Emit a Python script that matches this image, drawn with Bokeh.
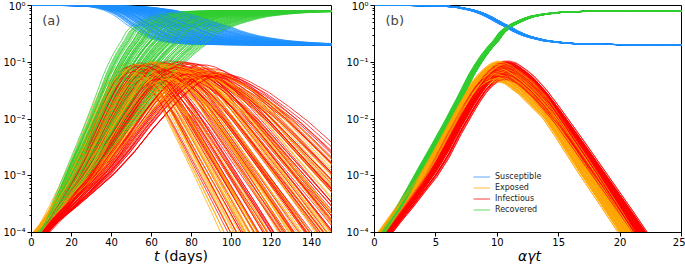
import numpy as np
from bokeh.plotting import figure
from bokeh.layouts import row, column
from bokeh.models import (FixedTicker, CustomJSTickFormatter, Label, Legend,
                          LegendItem, ColumnDataSource, Range1d, Div)
from bokeh.embed import file_html
from bokeh.resources import INLINE

# ---- template curves (x = alpha*gamma*t) ----
X_T = [0.0, 0.5, 1.0, 2.0, 3.0, 4.0, 5.0, 6.0, 7.0, 8.0, 8.5, 9.0, 9.5, 10.0,
       10.5, 11.0, 11.5, 12.0, 12.5, 13.0, 14.0, 15.0, 16.0, 17.0, 18.0, 19.0,
       20.0, 21.0, 22.0, 23.0, 25.0, 30.0, 40.0]
S_T = [1.0, 1.0, 1.0, 0.9999, 0.9995, 0.998, 0.99, 0.97, 0.92, 0.83, 0.77,
       0.70, 0.62, 0.54, 0.47, 0.42, 0.36, 0.32, 0.29, 0.27, 0.24, 0.225,
       0.215, 0.21, 0.207, 0.206, 0.205, 0.204, 0.204, 0.204, 0.204, 0.204, 0.204]
R_LOG = [-4.4, -4.15, -3.95, -3.6, -3.22, -2.83, -2.45, -2.06, -1.65, -1.22,
         -1.04, -0.88, -0.74, -0.62, -0.47, -0.38, -0.32, -0.27, -0.225, -0.19,
         -0.15, -0.125, -0.112, -0.105, -0.1, -0.098, -0.097, -0.0965, -0.0962,
         -0.096, -0.096, -0.096, -0.096]
I_HI_LOG = [-4.3, -4.12, -3.97, -3.65, -3.35, -3.05, -2.67, -2.25, -1.86, -1.5,
            -1.35, -1.21, -1.1, -1.02, -0.98, -0.98, -1.01, -1.08, -1.16,
            -1.25, -1.49, -1.78, -2.08, -2.38, -2.69, -3.0, -3.31, -3.62, -3.94,
            -4.25, -4.87, -6.4, -9.5]
I_LO_LOG = [-4.5, -4.3, -4.12, -3.84, -3.58, -3.3, -3.03, -2.69, -2.27, -1.89,
            -1.71, -1.55, -1.43, -1.34, -1.31, -1.33, -1.38, -1.46, -1.56, -1.66,
            -1.9, -2.15, -2.45, -2.76, -3.06, -3.36, -3.66, -3.97, -4.27, -4.57,
            -5.17, -6.7, -9.8]
E_HI_LOG = [-4.12, -3.95, -3.8, -3.5, -3.17, -2.83, -2.45, -2.04, -1.66, -1.34,
            -1.21, -1.1, -1.02, -0.98, -0.99, -1.03, -1.1, -1.17, -1.26, -1.35,
            -1.6, -1.93, -2.25, -2.57, -2.9, -3.24, -3.58, -3.93, -4.27, -4.6,
            -5.3, -7.0, -10.4]
E_LO_LOG = [-4.3, -4.15, -4.0, -3.7, -3.41, -3.12, -2.78, -2.37, -1.96, -1.63,
            -1.51, -1.42, -1.37, -1.35, -1.37, -1.43, -1.52, -1.6, -1.71, -1.82,
            -2.03, -2.35, -2.69, -3.03, -3.35, -3.67, -4.0, -4.33, -4.66, -5.0,
            -5.66, -7.3, -10.6]

# ---- per-run values: days per unit of alpha*gamma*t, offset (alpha*gamma*t),
#      extra offset in days (panel a), peak weights for I and E ----
K_DAYS = [6.3, 8.4, 5.1, 7.35, 4.7, 9.0, 6.75, 5.55, 8.1, 7.05,
          4.9, 6.0, 9.45, 5.8, 7.6, 6.5, 8.75, 5.3, 7.2, 4.5,
          6.15, 8.2, 5.95, 9.3, 7.0, 5.4, 6.6, 8.5, 4.8, 7.4,
          6.35, 9.15, 5.7, 7.8, 6.1, 8.0, 5.15, 6.9, 9.6, 5.5,
          7.3, 4.6, 6.4, 8.6, 5.9, 7.1, 6.2, 8.9, 5.0, 7.7,
          6.8, 8.3, 5.35, 7.5, 5.75, 6.55, 7.9, 5.2, 6.7, 5.6,
          5.25, 7.25, 6.45, 8.05, 4.65, 6.95, 5.65, 8.55, 6.25, 7.55,
          4.85, 7.95, 6.05, 5.45, 9.05, 6.65, 7.15, 5.85, 8.35, 6.85,
          5.05, 7.65, 6.35, 8.8, 5.6, 7.45, 6.0, 9.35, 5.3, 7.0]
U_OFF = [-0.05, -0.15, 0.08, -0.02, 0.12, -0.3, 0.0, -0.06, -0.1, -0.12,
         0.02, 0.06, -0.3, -0.03, -0.14, 0.03, -0.26, 0.1, -0.08, 0.0,
         -0.1, -0.05, 0.09, -0.32, 0.02, -0.02, -0.08, -0.12, 0.07, -0.04,
         0.05, -0.27, 0.04, -0.18, -0.01, -0.08, -0.04, -0.06, -0.35, 0.12,
         -0.1, 0.09, -0.12, -0.06, 0.0, 0.04, 0.02, -0.25, -0.03, -0.07,
         -0.11, -0.19, 0.05, 0.0, -0.08, 0.07, -0.12, 0.01, -0.04, 0.06,
         0.03, -0.09, 0.06, -0.13, 0.1, -0.02, -0.05, -0.17, 0.0, -0.11,
         0.05, -0.14, -0.06, 0.08, -0.24, 0.01, -0.07, 0.03, -0.16, -0.03,
         0.11, -0.1, 0.02, -0.21, -0.01, -0.06, 0.08, -0.3, 0.0, -0.09]
D_DAYS = [-0.9, -2.0, -0.3, -1.4, 0.0, -2.2, -1.1, -0.5, -1.8, -1.3,
          -0.2, -0.7, -2.4, -0.6, -1.5, -1.0, -2.1, -0.4, -1.3, 0.0,
          -0.8, -2.0, -0.7, -2.3, -1.2, -0.4, -1.0, -2.0, -0.1, -1.3,
          -0.9, -2.3, -0.6, -1.6, -0.8, -1.8, -0.3, -1.2, -2.5, -0.5,
          -1.4, 0.0, -0.9, -2.1, -0.7, -1.3, -0.8, -2.2, -0.2, -1.6,
          -1.1, -1.9, -0.4, -1.5, -0.6, -1.0, -1.7, -0.3, -1.1, -0.5,
          -0.4, -1.4, -1.0, -1.8, 0.0, -1.2, -0.6, -2.0, -0.9, -1.5,
          -0.2, -1.7, -0.8, -0.5, -2.3, -1.1, -1.3, -0.7, -1.9, -1.2,
          -0.3, -1.6, -0.9, -2.1, -0.5, -1.4, -0.7, -2.4, -0.4, -1.2]
W_I = [0.9, 0.5, 0.6, 0.7, 0.55, 0.35, 0.4, 0.8, 0.2, 0.95,
       0.3, 0.75, 0.25, 0.5, 0.6, 1.0, 0.45, 0.2, 0.35, 0.65,
       0.3, 0.8, 0.95, 0.15, 0.55, 0.4, 0.7, 0.3, 0.8, 0.1,
       0.6, 0.4, 0.15, 0.85, 0.45, 0.65, 0.9, 0.25, 0.3, 0.55,
       0.45, 0.4, 0.85, 0.6, 0.1, 0.75, 0.5, 0.2, 0.7, 0.35,
       0.8, 0.35, 0.65, 0.05, 0.9, 0.2, 0.5, 0.35, 0.6, 0.0,
       0.55, 0.85, 0.3, 0.4, 0.75, 0.65, 0.25, 0.2, 0.9, 0.5,
       0.45, 0.55, 0.6, 0.85, 0.3, 0.15, 0.95, 0.7, 0.25, 0.4,
       0.8, 0.3, 0.5, 0.35, 0.6, 0.9, 0.05, 0.2, 0.75, 0.65]
W_E = [0.7, 0.3, 0.85, 0.5, 0.9, 0.2, 0.6, 0.4, 0.55, 0.8,
       0.6, 0.95, 0.1, 0.35, 0.45, 0.75, 0.3, 0.5, 0.65, 0.85,
       0.5, 0.6, 0.7, 0.25, 0.9, 0.15, 0.45, 0.4, 0.55, 0.3,
       0.8, 0.2, 0.65, 0.5, 1.0, 0.35, 0.6, 0.75, 0.15, 0.4,
       0.25, 0.7, 0.55, 0.45, 0.85, 0.3, 0.95, 0.35, 0.5, 0.6,
       0.4, 0.5, 0.0, 0.7, 0.65, 0.9, 0.25, 0.8, 0.45, 0.55,
       0.35, 0.75, 0.2, 0.6, 0.5, 0.85, 0.1, 0.45, 0.7, 0.95,
       0.65, 0.25, 0.9, 0.4, 0.55, 0.3, 0.8, 0.05, 0.6, 0.75,
       0.45, 0.5, 0.35, 0.7, 0.2, 0.65, 0.95, 0.4, 0.85, 0.15]

NAMES = ["Susceptible", "Exposed", "Infectious", "Recovered"]
COLORS = ["#1e90ff", "#ffa500", "#ff0000", "#32cd32"]
Y_TICKS = [1e-4, 1e-3, 1e-2, 1e-1, 1.0]
X_TICKS_A = [0, 20, 40, 60, 80, 100, 120, 140]
X_TICKS_B = [0, 5, 10, 15, 20, 25]

FONT = "DejaVu Sans"

xt = np.array(X_T)
s_t = np.array(S_T)
r_t = 10 ** np.array(R_LOG)
ih, il = np.array(I_HI_LOG), np.array(I_LO_LOG)
eh, el = np.array(E_HI_LOG), np.array(E_LO_LOG)

xa, xb, ys, cols = [], [], [], []
for k, u, d, we, wi in zip(K_DAYS, U_OFF, D_DAYS, W_E, W_I):
    e = 10 ** (we * eh + (1 - we) * el)
    i = 10 ** (wi * ih + (1 - wi) * il)
    xr = xt + u
    for y, c in zip([s_t, e, i, r_t], COLORS):
        xb.append(list(xr))
        xa.append(list(k * xr + d))
        ys.append(list(y))
        cols.append(c)

src_a = ColumnDataSource(dict(xs=xa, ys=ys, c=cols))
src_b = ColumnDataSource(dict(xs=xb, ys=ys, c=cols))

sup_code = """
const e = Math.round(Math.log10(tick));
const m = {'0':'\\u2070','1':'\\u00b9','2':'\\u00b2','3':'\\u00b3','4':'\\u2074',
           '5':'\\u2075','6':'\\u2076','7':'\\u2077','8':'\\u2078','9':'\\u2079','-':'\\u207b'};
return '10' + String(e).split('').map(c => m[c]).join('');
"""
minor = [m * 10.0 ** ex for ex in range(-4, 0) for m in range(2, 10)]


def make_fig(width, xr, xticks, src, left, right):
    p = figure(width=width, height=248, x_range=Range1d(*xr),
               y_range=Range1d(1e-4, 1.0), y_axis_type="log",
               output_backend="svg", toolbar_location=None,
               min_border_left=left, min_border_right=right,
               min_border_top=5, min_border_bottom=16)
    p.multi_line(xs="xs", ys="ys", line_color="c", line_width=1,
                 line_alpha=0.75, source=src)
    p.xgrid.visible = False
    p.ygrid.visible = False
    p.outline_line_color = "black"
    p.outline_line_alpha = 1.0
    p.xaxis.ticker = FixedTicker(ticks=xticks, minor_ticks=[])
    p.yaxis.ticker = FixedTicker(ticks=Y_TICKS, minor_ticks=minor)
    p.yaxis.formatter = CustomJSTickFormatter(code=sup_code)
    for ax in (p.xaxis[0], p.yaxis[0]):
        ax.major_label_text_font = FONT
        ax.major_label_text_font_size = "10px"
        ax.major_label_text_color = "black"
        ax.axis_line_color = "black"
        ax.major_tick_line_color = "black"
        ax.minor_tick_line_color = "black"
        ax.major_tick_out = 4
        ax.major_tick_in = 0
        ax.minor_tick_out = 2
        ax.minor_tick_in = 0
    p.xaxis.major_label_standoff = 1
    p.yaxis.major_label_standoff = 2
    return p


pa = make_fig(340, (0, 150), X_TICKS_A, src_a, 25, 9)
pb = make_fig(345, (0, 25), X_TICKS_B, src_b, 34, 4)

pa.add_layout(Label(x=5.4, y=0.723, text="(a)", text_font=FONT,
                    text_font_size="13px", text_baseline="top", text_align="left"))
pb.add_layout(Label(x=0.9, y=0.723, text="(b)", text_font=FONT,
                    text_font_size="13px", text_baseline="top", text_align="left"))

items = []
for name, c in zip(NAMES, COLORS):
    rr = pb.line(x=[-5.0, -4.0], y=[0.5, 0.5], line_color=c, line_alpha=0.5,
                 line_width=1.5)
    items.append(LegendItem(label=name, renderers=[rr]))
leg = Legend(items=items, location=(99, 17), glyph_width=17, glyph_height=11,
             label_height=11, spacing=0, padding=0, margin=0, label_standoff=5,
             label_text_font=FONT, label_text_font_size="8px",
             label_text_color="#222222",
             border_line_alpha=0, background_fill_alpha=0)
pb.add_layout(leg)

lab_style = ("font-family:'DejaVu Sans';font-size:14px;line-height:16px;"
             "white-space:nowrap;color:black;")
div_a = Div(text=f'<div style="{lab_style}padding-left:154px">'
                 '<i>t</i> (days)</div>', width=340, height=16, margin=0)
div_b = Div(text=f'<div style="{lab_style}padding-left:178px">'
                 '<i>\u03b1\u03b3t</i></div>', width=345, height=16, margin=0)

layout = column(row(pa, pb), row(div_a, div_b))
open("out.html", "w", encoding="utf-8").write(file_html(layout, INLINE))
